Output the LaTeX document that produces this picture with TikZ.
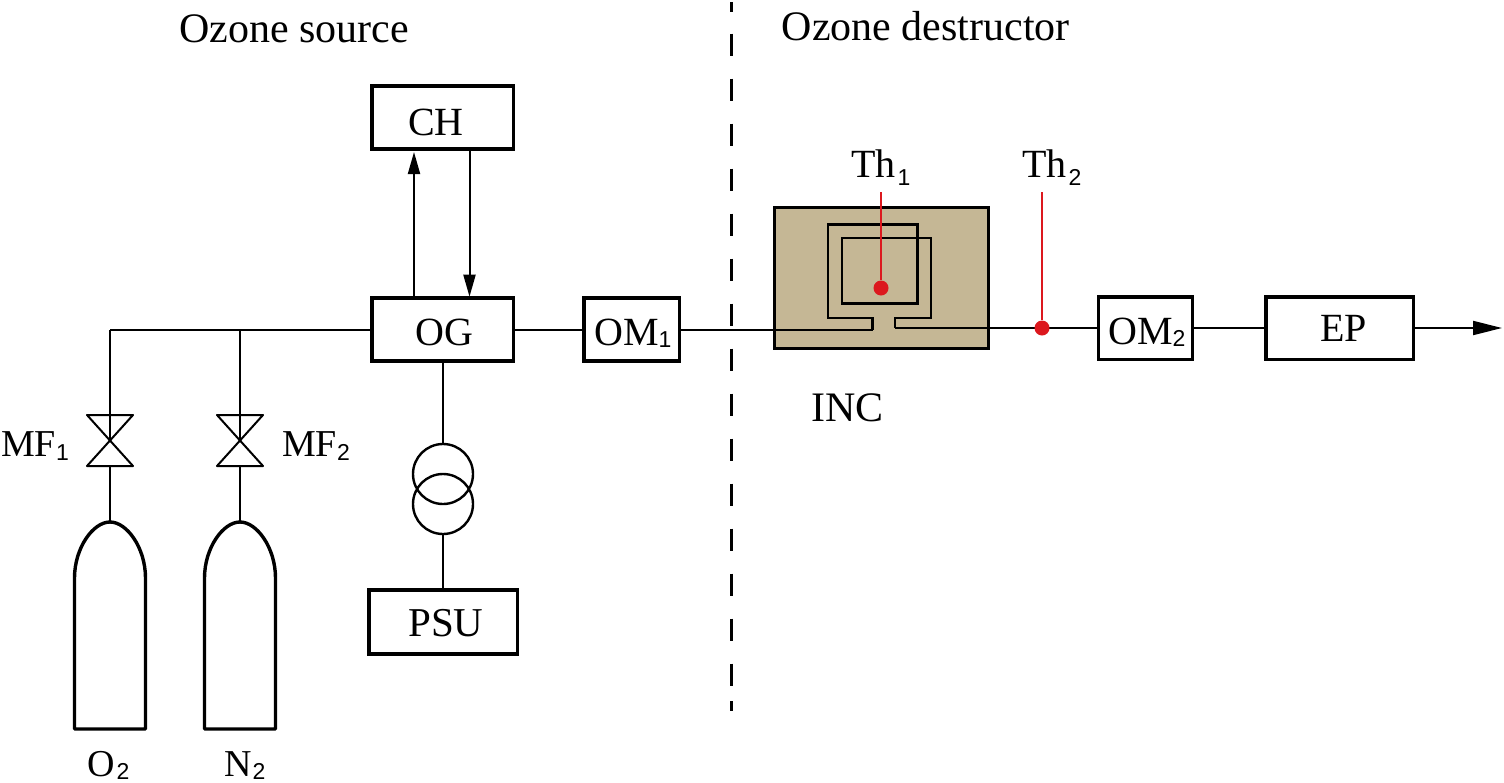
\documentclass[tikz,border=0pt]{standalone}
\usepackage{fontspec}
\setmainfont{Liberation Serif}
\newfontfamily\subsfont{Liberation Sans}
\usetikzlibrary{arrows.meta,calc}
\definecolor{incfill}{RGB}{197,183,149}
\definecolor{probe}{RGB}{220,24,30}
\newcommand{\sbs}[2]{\raisebox{-#1pt}{\subsfont\fontsize{23}{24}\selectfont #2}}
\newcommand{\fs}[1]{\fontsize{#1}{#1}\selectfont}
\tikzset{
  every node/.style={font=\fs{40}},
  boxn/.style={draw=black,line width=3.5pt,fill=white,minimum width=#1,inner sep=0pt},
  lbl/.style={inner sep=0pt,anchor=base west},
  wire/.style={line width=2pt},
  coil/.style={line width=2.2pt,line join=miter},
  probeline/.style={draw=probe,line width=2pt},
  probedot/.style={fill=probe,draw=none,circle,minimum size=15pt,inner sep=0pt},
  tipS/.style={-{Triangle[length=22pt,width=12pt]}},
  tipL/.style={-{Triangle[length=29pt,width=14pt]}},
  heavy/.style={line width=3.4pt,line join=round},
  dashseg/.style={line width=3.5pt},
}
\begin{document}
\begin{tikzpicture}[x=1pt,y=-1pt]
\useasboundingbox (0,0) rectangle (1504,782);
% boxes
\node[boxn=141.5pt,minimum height=63pt] (CH) at (442.5,117.5) {};
\node[boxn=141.5pt,minimum height=63pt] (OG) at (442.5,329.5) {};
\node[boxn=95.5pt,minimum height=63pt] (OMa) at (631.5,329.5) {};
\node[boxn=94pt,minimum height=62.5pt] (OMb) at (1145.3,328) {};
\node[boxn=147.5pt,minimum height=62.5pt] (EP) at (1339.5,328) {};
\node[boxn=148.5pt,minimum height=64pt] (PSU) at (443,622) {};
\node[draw=black,line width=3pt,fill=incfill,minimum width=214pt,minimum height=141pt,inner sep=0pt] (INC) at (881.8,278) {};
% coordinates
\coordinate (J1) at (110,330);
\coordinate (J2) at (240,330);
\coordinate (Va) at (110,440.5);
\coordinate (Vb) at (240,440.5);
\coordinate (CylA) at (110,522);
\coordinate (CylB) at (240,522);
\coordinate (TrA) at (443,474);
\coordinate (TrB) at (443,504);
\coordinate (OutEnd) at (1502,328);
\coordinate (CoilL) at (872.5,329.5);
\coordinate (CoilR) at (895,328);
\coordinate (ThaT) at (881,192);
\coordinate (ThbT) at (1042,192);
\coordinate (UpB) at (414,296);
\coordinate (UpT) at (414,152);
\coordinate (DnT) at (469.5,150);
\coordinate (DnB) at (469.5,296.7);
% wires
\draw[wire] (J1) -- (OG.west |- J1);
\draw[wire] (J1) -- (Va);
\draw[wire] (J2) -- (Vb);
\draw[wire] (Va) ++(0,25.5) -- (CylA);
\draw[wire] (Vb) ++(0,25.5) -- (CylB);
\draw[wire] (OG.east) -- (OMa.west);
\draw[wire] (OMa.east) -- (CoilL);
\draw[wire] (CoilR) -- (OMb.west |- CoilR);
\draw[wire] (OMb.east) -- (EP.west);
\draw[wire,tipL] (EP.east) -- (OutEnd);
\draw[wire,tipS] (UpB) -- (UpT);
\draw[wire,tipS] (DnT) -- (DnB);
\draw[wire] (TrA |- OG.south) -- ($(TrA)+(0,-30)$);
\draw[wire] ($(TrB)+(0,30)$) -- (TrB |- PSU.north);
% coil
\draw[coil] (CoilL) -- (872.5,318) -- (828,318) -- (828,224.5) -- (917.5,224.5) -- (917.5,303.5) -- (841.7,303.5) -- (841.7,238) -- (931,238) -- (931,318) -- (895,318) -- (CoilR);
% valves
\foreach \v in {Va,Vb}{
  \draw[wire,line join=round] ($(\v)+(-23,-25.5)$) -- ($(\v)+(23,-25.5)$) -- ($(\v)+(-23,25.5)$) -- ($(\v)+(23,25.5)$) -- cycle;
}
% cylinders
\foreach \c in {CylA,CylB}{
  \draw[heavy] ($(\c)+(-35.5,207)$) -- ($(\c)+(-35.5,56)$) .. controls ($(\c)+(-35.5,26)$) and ($(\c)+(-17,0)$) .. (\c) .. controls ($(\c)+(17,0)$) and ($(\c)+(35.5,26)$) .. ($(\c)+(35.5,56)$) -- ($(\c)+(35.5,207)$) -- cycle;
}
% transformer
\draw[line width=2.4pt] (TrA) circle[radius=30];
\draw[line width=2.4pt] (TrB) circle[radius=30];
% dashed
\coordinate (DashA) at (731.5,2);
\coordinate (DashB) at (731.5,12);
\coordinate (DashC) at (731.5,33.5);
\coordinate (DashD) at (731.5,687);
\coordinate (DashE) at (731.5,701);
\coordinate (DashF) at (731.5,711);
\draw[dashseg] (DashA) -- (DashB);
\draw[dashseg,dash pattern=on 22.5pt off 22.5pt] (DashC) -- (DashD);
\draw[dashseg] (DashE) -- (DashF);
% probes
\node[probedot] (Tha) at (881,288) {};
\node[probedot] (Thb) at (1042,328) {};
\draw[probeline] (ThaT) -- (Tha);
\draw[probeline] (ThbT) -- (Thb);
% labels
\node[lbl,font=\fs{42}] (tA) at (179,42) {Ozone source};
\node[lbl,font=\fs{42}] (tB) at (781.5,40) {Ozone destructor};
\node[lbl] (lCH) at (408,135.5) {CH};
\node[lbl] (lOG) at (415,345) {OG};
\node[lbl,font=\fs{40}] (lOMa) at (594,345) {OM\sbs{2}{1}};
\node[lbl,font=\fs{40}] (lOMb) at (1108,344.5) {OM\sbs{2}{2}};
\node[lbl] (lEP) at (1320,341) {EP};
\node[lbl,font=\fs{41}] (lPSU) at (408,636) {PSU};
\node[lbl,font=\fs{42}] (lINC) at (811,421) {INC};
\node[lbl] (lTha) at (851,177) {Th\kern2pt\sbs{8}{1}};
\node[lbl] (lThb) at (1022,177) {Th\kern2pt\sbs{8}{2}};
\node[lbl,font=\fs{38}] (lMFa) at (1,456) {MF\sbs{4}{1}};
\node[lbl,font=\fs{38}] (lMFb) at (282,456) {MF\sbs{4}{2}};
\node[lbl,font=\fs{38}] (lOt) at (87,776) {O\kern2pt\sbs{3}{2}};
\node[lbl,font=\fs{38}] (lNt) at (224,776) {N\kern1pt\sbs{3}{2}};
\end{tikzpicture}
\end{document}
